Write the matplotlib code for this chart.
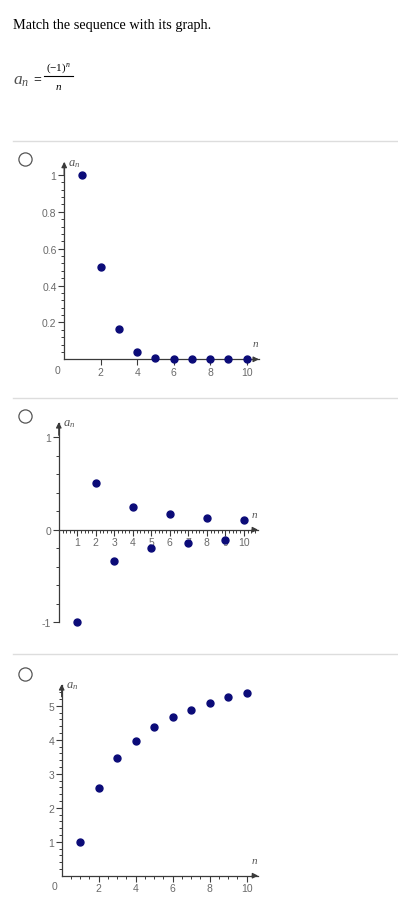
import matplotlib
matplotlib.use("Agg")
import numpy as np
import matplotlib.pyplot as plt
from matplotlib.lines import Line2D
from matplotlib.transforms import IdentityTransform
from matplotlib.ticker import FixedLocator, NullLocator

plt.rcParams['mathtext.fontset'] = 'custom'
plt.rcParams['mathtext.it'] = 'Liberation Serif:italic'
plt.rcParams['mathtext.rm'] = 'Liberation Serif'
plt.rcParams['font.family'] = ['Liberation Sans', 'DejaVu Sans']

# ---------------- data ----------------
n_vals = [1, 2, 3, 4, 5, 6, 7, 8, 9, 10]
seq_a = [1.0, 0.5, 0.167, 0.042, 0.008, 0.0014, 0.0002, 0.0, 0.0, 0.0]
seq_b = [-1.0, 0.5, -0.333, 0.25, -0.2, 0.167, -0.143, 0.125, -0.111, 0.1]
seq_c = [1.0, 2.59, 3.47, 3.97, 4.36, 4.67, 4.86, 5.07, 5.25, 5.37]

xt_a = [2, 4, 6, 8, 10]
yt_a = [0.2, 0.4, 0.6, 0.8, 1]
yl_a = ["0.2", "0.4", "0.6", "0.8", "1"]
xt_b = [1, 2, 3, 4, 5, 6, 7, 8, 9, 10]
yt_b = [-1, 0, 1]
yl_b = ["-1", "0", "1"]
xt_c = [2, 4, 6, 8, 10]
yt_c = [1, 2, 3, 4, 5]

title = "Match the sequence with its graph."

W, H = 398, 912
fig = plt.figure(figsize=(W / 100, H / 100), dpi=100)
fig.patch.set_facecolor('white')

DOT = '#0b0b78'
AX = '#3a3a3a'
LBL = '#6a6a6a'


def px(x, y):
    return (x / W, 1 - y / H)


def make_ax(x0, ux, y0, uy, xlim, ylim):
    left = x0 + xlim[0] * ux
    width = (xlim[1] - xlim[0]) * ux
    top_px = y0 - ylim[1] * uy
    bot_px = y0 - ylim[0] * uy
    ax = fig.add_axes([left / W, 1 - bot_px / H, width / W, (bot_px - top_px) / H])
    ax.set_xlim(xlim)
    ax.set_ylim(ylim)
    ax.patch.set_alpha(0)
    for s in ['top', 'right']:
        ax.spines[s].set_visible(False)
    ax.spines['left'].set_position(('data', 0))
    ax.spines['bottom'].set_position(('data', 0))
    for s in ['left', 'bottom']:
        ax.spines[s].set_color(AX)
        ax.spines[s].set_linewidth(0.9)
    ax.tick_params(which='major', length=4, width=0.8, color=AX,
                   labelsize=7.5, labelcolor=LBL, pad=1.5)
    ax.tick_params(which='minor', length=2.5, width=0.7, color=AX)
    return ax


def minor(lo, hi, step):
    return FixedLocator(np.round(np.arange(lo, hi + 1e-9, step), 6))


def arrows(ax, xend, ybot, ytop):
    ax.spines['bottom'].set_bounds(0, xend)
    ax.spines['left'].set_bounds(ybot, ytop)
    ax.annotate('', xy=(xend + 0.02, 0), xytext=(xend - 0.3, 0),
                arrowprops=dict(arrowstyle='-|>', color=AX, lw=0.9,
                                mutation_scale=8, shrinkA=0, shrinkB=0),
                annotation_clip=False)
    dy = (ytop - ybot) * 0.02
    ax.annotate('', xy=(0, ytop + dy * 0.3), xytext=(0, ytop - dy * 3),
                arrowprops=dict(arrowstyle='-|>', color=AX, lw=0.9,
                                mutation_scale=8, shrinkA=0, shrinkB=0),
                annotation_clip=False)
    ax.annotate(r'$a_n$', xy=(0, ytop), xytext=(3, 0), textcoords='offset points',
                fontsize=9, color='#555555', ha='left', va='center')
    ax.annotate(r'$n$', xy=(xend, 0), xytext=(-2, 8), textcoords='offset points',
                fontsize=8, color='#555555', ha='center', va='bottom')


# ---------------- header ----------------
fig.text(*px(13, 26), title, fontsize=10.3, family='Liberation Serif',
         ha='left', va='center', color='black')
fig.text(*px(13, 81), r'$a_n$', fontsize=12.5, color='#505050', ha='left', va='center')
fig.text(*px(33, 80), '=', fontsize=10, family='Liberation Serif', ha='left', va='center')
fig.text(*px(58.5, 68), r'$(-1)^n$', fontsize=8, color='black', ha='center', va='center')
fig.add_artist(Line2D([44, 73], [H - 77, H - 77], color='black', lw=0.8,
                      transform=IdentityTransform()))
fig.text(*px(59, 87), r'$n$', fontsize=8, color='black', ha='center', va='center')

# separators and radio buttons
for ys in [142, 399, 655]:
    fig.add_artist(Line2D([13, 398], [H - ys, H - ys], color='#dddddd', lw=1,
                          transform=IdentityTransform()))
for yc in [160, 416.5, 675]:
    fig.add_artist(Line2D([25], [H - yc], marker='o', ms=9.5, mfc='white',
                          mec='#555555', mew=0.9, transform=IdentityTransform()))

# ---------------- panel A ----------------
axA = make_ax(64.2, 18.25, 360.3, 184.3, (-0.5, 11.2), (-0.08, 1.12))
arrows(axA, 10.65, 0, 1.065)
axA.xaxis.set_major_locator(FixedLocator(xt_a))
axA.xaxis.set_minor_locator(NullLocator())
axA.yaxis.set_major_locator(FixedLocator(yt_a))
axA.set_yticklabels(yl_a)
axA.yaxis.set_minor_locator(minor(0.04, 1.0, 0.04))
axA.annotate('0', xy=(0, 0), xytext=(-5, -4), textcoords='offset points',
             fontsize=7.5, color=LBL, ha='center', va='top')
axA.plot(n_vals, seq_a, 'o', color=DOT, ms=5, clip_on=False, zorder=5)

# ---------------- panel B ----------------
axB = make_ax(58.8, 18.5, 530.7, 92.5, (-0.6, 11.2), (-1.08, 1.25))
arrows(axB, 10.75, -1, 1.15)
axB.xaxis.set_major_locator(FixedLocator(xt_b))
axB.xaxis.set_minor_locator(minor(0.2, 10.6, 0.2))
axB.yaxis.set_major_locator(FixedLocator(yt_b))
axB.set_yticklabels(yl_b)
axB.yaxis.set_minor_locator(minor(-1.0, 1.0, 0.2))
axB.plot(n_vals, seq_b, 'o', color=DOT, ms=5, clip_on=False, zorder=5)

# ---------------- panel C ----------------
axC = make_ax(61.7, 18.5, 876.7, 34.0, (-0.6, 11.2), (-0.3, 5.8))
arrows(axC, 10.6, 0, 5.6)
axC.xaxis.set_major_locator(FixedLocator(xt_c))
axC.xaxis.set_minor_locator(minor(0.5, 10.0, 0.5))
axC.yaxis.set_major_locator(FixedLocator(yt_c))
axC.yaxis.set_minor_locator(minor(0.2, 5.4, 0.2))
axC.annotate('0', xy=(0, 0), xytext=(-5, -4), textcoords='offset points',
             fontsize=7.5, color=LBL, ha='center', va='top')
axC.plot(n_vals, seq_c, 'o', color=DOT, ms=5, clip_on=False, zorder=5)

fig.savefig('out.png', dpi=100, facecolor='white')
